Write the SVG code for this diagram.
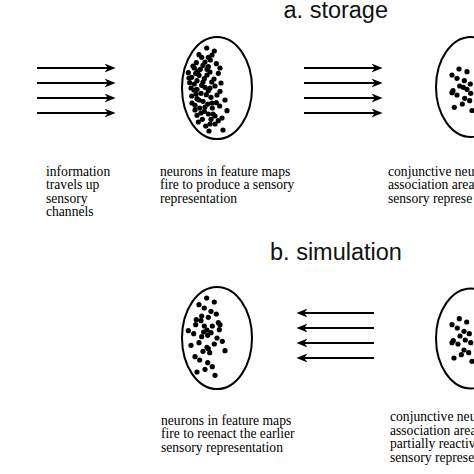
<svg xmlns="http://www.w3.org/2000/svg" xmlns:xlink="http://www.w3.org/1999/xlink" width="474" height="474" viewBox="0 0 474 474">
<defs>
<style>
.bg{fill:#ffffff}
.title{font-family:"Liberation Sans",Arial,sans-serif;font-size:23.5px;fill:#111}
.lbl{font-family:"Liberation Serif","Times New Roman",serif;font-size:13.6px;fill:#000}
.area{fill:none;stroke:#000;stroke-width:2}
.dots circle{fill:#000}
.conn line{stroke:#000;stroke-width:2}
</style>
<marker id="ah" markerUnits="userSpaceOnUse" markerWidth="11" markerHeight="9" refX="4" refY="4" orient="auto" viewBox="0 0 10 8">
<path d="M0,0 L10,4 L0,8 L3,4 z" fill="#000"/>
</marker>
</defs>
<rect class="bg" x="0" y="0" width="474" height="474"/>

<g id="title-storage"><text class="title" x="283.5" y="18">a. storage</text></g>
<g id="title-simulation"><text class="title" x="270" y="259.5">b. simulation</text></g>

<g id="node-channels">
<text class="lbl" x="46" y="175.5">information</text>
<text class="lbl" x="46" y="189">travels up</text>
<text class="lbl" x="46" y="202.5">sensory</text>
<text class="lbl" x="46" y="216">channels</text>
</g>

<g id="node-feature-storage">
<ellipse class="area" cx="217" cy="88" rx="35" ry="51"/>
<g class="dots">
<circle cx="206.7" cy="48" r="2.6"/><circle cx="214.3" cy="51" r="2.6"/><circle cx="199" cy="54.7" r="2.6"/><circle cx="201.7" cy="57.3" r="2.6"/><circle cx="208.3" cy="57.3" r="2.6"/><circle cx="210.3" cy="60" r="2.6"/><circle cx="216.3" cy="63.7" r="2.6"/><circle cx="196.3" cy="62.7" r="2.6"/><circle cx="203" cy="65.3" r="2.6"/><circle cx="208.3" cy="66.7" r="2.6"/><circle cx="194.3" cy="68" r="2.6"/><circle cx="200.3" cy="69.3" r="2.6"/><circle cx="207" cy="69.3" r="2.6"/><circle cx="188.3" cy="72.7" r="2.6"/><circle cx="195.7" cy="73.3" r="2.6"/><circle cx="199" cy="75.3" r="2.6"/><circle cx="218.3" cy="73.3" r="2.6"/><circle cx="191.7" cy="77.3" r="2.6"/><circle cx="204.3" cy="78.7" r="2.6"/><circle cx="197" cy="80.7" r="2.6"/><circle cx="189.7" cy="82.7" r="2.6"/><circle cx="194.3" cy="84" r="2.6"/><circle cx="211.7" cy="82" r="2.6"/><circle cx="201.7" cy="85.3" r="2.6"/><circle cx="205" cy="87.3" r="2.6"/><circle cx="215" cy="86" r="2.6"/><circle cx="191" cy="88" r="2.6"/><circle cx="197" cy="89.3" r="2.6"/><circle cx="208.3" cy="90.7" r="2.6"/><circle cx="220" cy="91.3" r="2.6"/><circle cx="201" cy="93.3" r="2.6"/><circle cx="206.3" cy="94.7" r="2.6"/><circle cx="191.7" cy="96" r="2.6"/><circle cx="211" cy="97.3" r="2.6"/><circle cx="197" cy="98.7" r="2.6"/><circle cx="225" cy="100" r="2.6"/><circle cx="203" cy="101.3" r="2.6"/><circle cx="216.3" cy="102.7" r="2.6"/><circle cx="207.7" cy="104" r="2.6"/><circle cx="195" cy="105.3" r="2.6"/><circle cx="199.7" cy="108" r="2.6"/><circle cx="212.3" cy="108" r="2.6"/><circle cx="219.7" cy="106" r="2.6"/><circle cx="227" cy="110.7" r="2.6"/><circle cx="204.3" cy="111.3" r="2.6"/><circle cx="208.3" cy="114" r="2.6"/><circle cx="197" cy="115.3" r="2.6"/><circle cx="215" cy="116" r="2.6"/><circle cx="202.3" cy="119.3" r="2.6"/><circle cx="218.3" cy="120.7" r="2.6"/><circle cx="211" cy="119.3" r="2.6"/><circle cx="198.3" cy="122" r="2.6"/><circle cx="205.7" cy="126" r="2.6"/><circle cx="223" cy="130" r="2.6"/><circle cx="215" cy="124" r="2.6"/>
<circle cx="212" cy="55" r="2.6"/><circle cx="193" cy="66" r="2.6"/><circle cx="205" cy="62" r="2.6"/><circle cx="189" cy="78" r="2.6"/><circle cx="198" cy="71" r="2.6"/><circle cx="210" cy="72" r="2.6"/><circle cx="214" cy="79" r="2.6"/><circle cx="194" cy="90" r="2.6"/><circle cx="203" cy="82" r="2.6"/><circle cx="210" cy="88" r="2.6"/><circle cx="199" cy="100" r="2.6"/><circle cx="192" cy="103" r="2.6"/><circle cx="212" cy="103" r="2.6"/><circle cx="205" cy="107" r="2.6"/><circle cx="217" cy="95" r="2.6"/><circle cx="222" cy="118" r="2.6"/><circle cx="210" cy="124" r="2.6"/><circle cx="201" cy="113" r="2.6"/><circle cx="195" cy="110" r="2.6"/><circle cx="221" cy="83" r="2.6"/><circle cx="207" cy="75" r="2.6"/><circle cx="213" cy="114" r="2.6"/><circle cx="196" cy="94" r="2.6"/><circle cx="220" cy="68" r="2.6"/><circle cx="209" cy="131" r="2.6"/>
</g>
<text class="lbl" x="160" y="175.5">neurons in feature maps</text>
<text class="lbl" x="160" y="189">fire to produce a sensory</text>
<text class="lbl" x="160" y="202.5">representation</text>
</g>

<g id="node-conjunctive-storage">
<ellipse class="area" cx="471" cy="87" rx="35" ry="50"/>
<g class="dots">
<circle cx="459" cy="69" r="2.6"/><circle cx="467" cy="71.7" r="2.6"/><circle cx="452" cy="75" r="2.6"/><circle cx="457" cy="78.3" r="2.6"/><circle cx="464.3" cy="80.7" r="2.6"/><circle cx="470.3" cy="84" r="2.6"/><circle cx="459.7" cy="86" r="2.6"/><circle cx="467" cy="89.3" r="2.6"/><circle cx="463.3" cy="87.3" r="2.6"/><circle cx="453" cy="90.7" r="2.6"/><circle cx="452" cy="92.7" r="2.6"/><circle cx="457" cy="95" r="2.6"/><circle cx="470.7" cy="93.3" r="2.6"/><circle cx="464.7" cy="98.3" r="2.6"/><circle cx="469.7" cy="100.7" r="2.6"/><circle cx="462.3" cy="104" r="2.6"/><circle cx="454.3" cy="107.3" r="2.6"/><circle cx="472" cy="110.5" r="2.6"/>
</g>
<text class="lbl" x="388" y="175.5">conjunctive neu</text>
<text class="lbl" x="388" y="189">association area</text>
<text class="lbl" x="388" y="202.5">sensory represe</text>
</g>

<g id="node-feature-simulation">
<ellipse class="area" cx="217" cy="338" rx="35" ry="51"/>
<g class="dots">
<circle cx="206.7" cy="298" r="2.6"/><circle cx="214.3" cy="302" r="2.6"/><circle cx="199" cy="304.7" r="2.6"/><circle cx="204.3" cy="308" r="2.6"/><circle cx="211" cy="311.3" r="2.6"/><circle cx="216.3" cy="314" r="2.6"/><circle cx="201.7" cy="316" r="2.6"/><circle cx="208.3" cy="317.3" r="2.6"/><circle cx="196.3" cy="319.7" r="2.6"/><circle cx="201" cy="320.7" r="2.6"/><circle cx="218.3" cy="322.7" r="2.6"/><circle cx="195.7" cy="324.7" r="2.6"/><circle cx="204.3" cy="326" r="2.6"/><circle cx="212.3" cy="326" r="2.6"/><circle cx="220" cy="324.7" r="2.6"/><circle cx="188.3" cy="330.7" r="2.6"/><circle cx="193.7" cy="333.7" r="2.6"/><circle cx="203.7" cy="332" r="2.6"/><circle cx="207" cy="330" r="2.6"/><circle cx="219.3" cy="329.7" r="2.6"/><circle cx="211" cy="332.7" r="2.6"/><circle cx="201.7" cy="336.7" r="2.6"/><circle cx="207.7" cy="335.3" r="2.6"/><circle cx="217" cy="338" r="2.6"/><circle cx="222.3" cy="341.3" r="2.6"/><circle cx="199" cy="342.7" r="2.6"/><circle cx="214.3" cy="344" r="2.6"/><circle cx="191" cy="345.3" r="2.6"/><circle cx="207" cy="347.3" r="2.6"/><circle cx="208.3" cy="348.7" r="2.6"/><circle cx="203" cy="351.3" r="2.6"/><circle cx="209.7" cy="352.7" r="2.6"/><circle cx="225" cy="350.7" r="2.6"/><circle cx="195" cy="356.7" r="2.6"/><circle cx="199.7" cy="360" r="2.6"/><circle cx="207.7" cy="362.7" r="2.6"/><circle cx="212.3" cy="366.7" r="2.6"/><circle cx="205" cy="369.3" r="2.6"/><circle cx="197" cy="372" r="2.6"/><circle cx="215" cy="375.3" r="2.6"/>
</g>
<text class="lbl" x="161" y="424.5">neurons in feature maps</text>
<text class="lbl" x="161" y="438">fire to reenact the earlier</text>
<text class="lbl" x="161" y="451.5">sensory representation</text>
</g>

<g id="node-conjunctive-simulation">
<ellipse class="area" cx="471" cy="338.5" rx="35" ry="50"/>
<g class="dots">
<circle cx="459.3" cy="318.7" r="2.6"/><circle cx="466.7" cy="322" r="2.6"/><circle cx="452" cy="324.7" r="2.6"/><circle cx="457.3" cy="328" r="2.6"/><circle cx="464" cy="331.3" r="2.6"/><circle cx="469.3" cy="333.7" r="2.6"/><circle cx="460" cy="336" r="2.6"/><circle cx="453.3" cy="340.7" r="2.6"/><circle cx="452" cy="342.7" r="2.6"/><circle cx="458" cy="344" r="2.6"/><circle cx="465.3" cy="340" r="2.6"/><circle cx="470.7" cy="342.7" r="2.6"/><circle cx="464" cy="350" r="2.6"/><circle cx="468.7" cy="352.7" r="2.6"/><circle cx="461.3" cy="354.7" r="2.6"/><circle cx="454" cy="358" r="2.6"/><circle cx="472" cy="361.3" r="2.6"/>
</g>
<text class="lbl" x="390" y="421">conjunctive neu</text>
<text class="lbl" x="390" y="434.5">association area</text>
<text class="lbl" x="390" y="448">partially reactiv</text>
<text class="lbl" x="390" y="461.5">sensory represe</text>
</g>

<g id="connectors" class="conn">
<line x1="37" y1="68" x2="109" y2="68" marker-end="url(#ah)"/>
<line x1="37" y1="83" x2="109" y2="83" marker-end="url(#ah)"/>
<line x1="37" y1="98" x2="109" y2="98" marker-end="url(#ah)"/>
<line x1="37" y1="113" x2="109" y2="113" marker-end="url(#ah)"/>
<line x1="304" y1="68" x2="376" y2="68" marker-end="url(#ah)"/>
<line x1="304" y1="83" x2="376" y2="83" marker-end="url(#ah)"/>
<line x1="304" y1="98" x2="376" y2="98" marker-end="url(#ah)"/>
<line x1="304" y1="113" x2="376" y2="113" marker-end="url(#ah)"/>
<line x1="374" y1="313" x2="303" y2="313" marker-end="url(#ah)"/>
<line x1="374" y1="328" x2="303" y2="328" marker-end="url(#ah)"/>
<line x1="374" y1="343" x2="303" y2="343" marker-end="url(#ah)"/>
<line x1="374" y1="358" x2="303" y2="358" marker-end="url(#ah)"/>
</g>
</svg>
